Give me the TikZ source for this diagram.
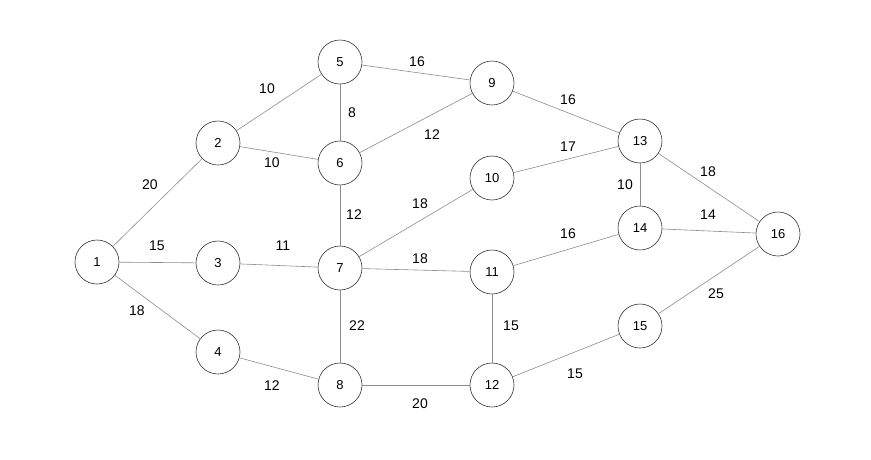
\documentclass[tikz,border=0pt]{standalone}
\usepackage{fontspec}
\setmainfont{Liberation Sans}
\begin{document}
\begin{tikzpicture}[x=1pt,y=-1pt,
  vtx/.style={circle,draw=black!80,line width=0.6pt,minimum size=44pt,inner sep=0pt,font=\fontsize{13}{15}\selectfont},
  edge/.style={draw=black!45,line width=0.6pt},
  lbl/.style={font=\fontsize{14}{16}\selectfont}]
\useasboundingbox (0,0) rectangle (871,459);
\foreach \n/\x/\y in {1/97/262,2/218/143,3/218/263,4/218/352,5/340/62,6/340/163,7/340/268,8/340/385,9/492/83,10/492/178,11/492/272,12/492/385,13/640/141,14/640/228,15/640/326,16/778/234}
  \node[vtx] (n\n) at (\x,\y) {\n};
\foreach \a/\b/\w/\x/\y in {1/2/20/150/185,1/3/15/157/246,1/4/18/137/311,2/5/10/267/89,2/6/10/272/163,3/7/11/283/246,4/8/12/272/386,5/9/16/417/62,5/6/8/352/113,6/9/12/432/135,6/7/12/354/215,7/10/18/420/204,7/11/18/420/259,7/8/22/357/326,9/13/16/568/100,10/13/17/568/147,13/14/10/625/185,13/16/18/708/172,14/16/14/708/215,11/14/16/568/234,11/12/15/511/326,12/15/15/575/374,15/16/25/716/294,8/12/20/420/404}
  {\draw[edge] (n\a) -- (n\b); \node[lbl] (w\a-\b) at (\x,\y) {\w};}
\end{tikzpicture}
\end{document}
